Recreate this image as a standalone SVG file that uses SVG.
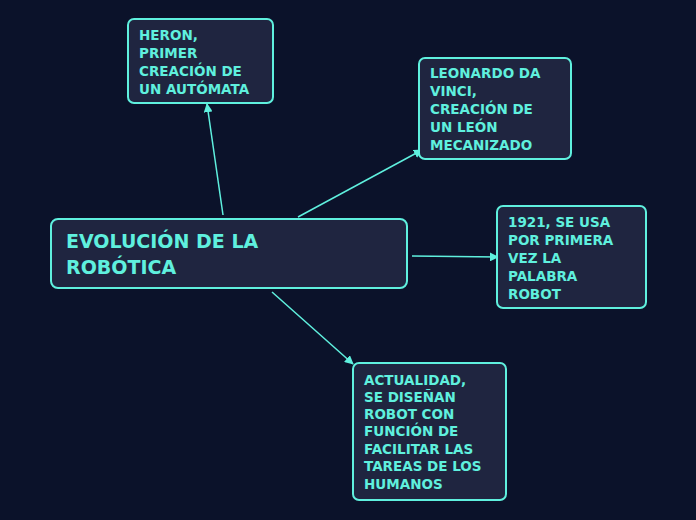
<svg xmlns="http://www.w3.org/2000/svg" width="696" height="520" viewBox="0 0 696 520">
<defs>
<style>
.n{fill:#1f2540;stroke:#5ff0de;stroke-width:2}
.t{fill:#5ff0de;font-family:"DejaVu Sans",sans-serif;font-weight:bold;font-size:13.5px}
.c{stroke:#5ff0de;stroke-width:1.5;fill:none;marker-end:url(#a)}
</style>
<marker id="a" viewBox="0 0 10 10" refX="9" refY="5" markerWidth="6" markerHeight="6" orient="auto"><path d="M0,0L10,5L0,10z" fill="#5ff0de"/></marker>
</defs>
<rect width="696" height="520" fill="#0b122a"/>
<g id="connectors">
<line class="c" x1="223" y1="215" x2="207" y2="104"/>
<line class="c" x1="298" y1="217" x2="422" y2="150"/>
<line class="c" x1="412" y1="256" x2="498" y2="257"/>
<line class="c" x1="272" y1="292" x2="353" y2="364"/>
</g>
<g id="main"><rect class="n" x="51" y="219" width="356" height="69" rx="7" stroke-width="2.5"/>
<text class="t" font-size="19" style="font-size:19px"><tspan x="66" y="248">EVOLUCIÓN DE LA</tspan><tspan x="66" y="274">ROBÓTICA</tspan></text></g>
<g id="heron"><rect class="n" x="128" y="19" width="145" height="84" rx="6"/>
<text class="t"><tspan x="139" y="40">HERON,</tspan><tspan x="139" y="58">PRIMER</tspan><tspan x="139" y="76">CREACIÓN DE</tspan><tspan x="139" y="94">UN AUTÓMATA</tspan></text></g>
<g id="leonardo"><rect class="n" x="419" y="58" width="152" height="101" rx="6"/>
<text class="t"><tspan x="430" y="78">LEONARDO DA</tspan><tspan x="430" y="96">VINCI,</tspan><tspan x="430" y="114">CREACIÓN DE</tspan><tspan x="430" y="132">UN LEÓN</tspan><tspan x="430" y="150">MECANIZADO</tspan></text></g>
<g id="y1921"><rect class="n" x="497" y="206" width="149" height="102" rx="6"/>
<text class="t"><tspan x="508" y="227">1921, SE USA</tspan><tspan x="508" y="245">POR PRIMERA</tspan><tspan x="508" y="263">VEZ LA</tspan><tspan x="508" y="281">PALABRA</tspan><tspan x="508" y="299">ROBOT</tspan></text></g>
<g id="actual"><rect class="n" x="353" y="363" width="153" height="137" rx="6"/>
<text class="t"><tspan x="364" y="385">ACTUALIDAD,</tspan><tspan x="364" y="402">SE DISEÑAN</tspan><tspan x="364" y="419">ROBOT CON</tspan><tspan x="364" y="436">FUNCIÓN DE</tspan><tspan x="364" y="454">FACILITAR LAS</tspan><tspan x="364" y="471">TAREAS DE LOS</tspan><tspan x="364" y="489">HUMANOS</tspan></text></g>
</svg>
